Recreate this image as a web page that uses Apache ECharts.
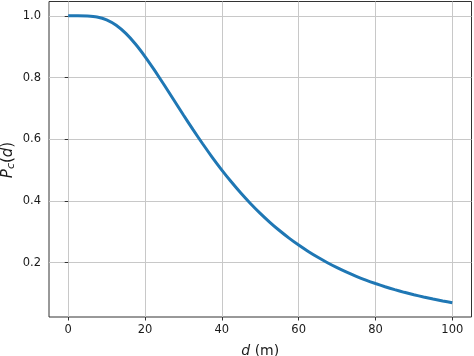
<!DOCTYPE html>
<html>
<head>
<meta charset="utf-8">
<script src="https://cdn.jsdelivr.net/npm/echarts@6/dist/echarts.min.js"></script>
<style>
html,body{margin:0;padding:0;background:#fff;}
#chart{width:474px;height:356px;}
</style>
</head>
<body>
<div id="chart"></div>
<script>
// distance d (m)
var distances = [0, 2.5, 5, 7.5, 10, 12.5, 15, 17.5, 20, 22.5, 25, 27.5, 30, 32.5, 35, 37.5, 40,
  42.5, 45, 47.5, 50, 52.5, 55, 57.5, 60, 62.5, 65, 67.5, 70, 72.5, 75, 77.5, 80,
  82.5, 85, 87.5, 90, 92.5, 95, 97.5, 100];
// coverage probability P_c(d)
var probabilities = [1.0, 1.0, 0.9996, 0.9965, 0.9873, 0.9696, 0.9430, 0.9086, 0.8680, 0.8231, 0.7756,
  0.7270, 0.6785, 0.6310, 0.5852, 0.5414, 0.5000, 0.4611, 0.4247, 0.3909, 0.3596, 0.3306,
  0.3039, 0.2793, 0.2567, 0.2360, 0.2170, 0.1995, 0.1836, 0.1689, 0.1555, 0.1432, 0.1320,
  0.1217, 0.1122, 0.1035, 0.0956, 0.0884, 0.0817, 0.0755, 0.0699];
var xTicks = [0, 20, 40, 60, 80, 100];
var yTicks = [0.2, 0.4, 0.6, 0.8, 1.0];

var seriesData = distances.map(function (d, i) { return [d, probabilities[i]]; });

var chart = echarts.init(document.getElementById('chart'), null, {renderer: 'canvas'});
var font = 'DejaVu Sans';
var txt = '#1a1a1a';
chart.setOption({
  animation: false,
  backgroundColor: '#fff',
  grid: {left: 49, right: 2.5, top: 1.5, bottom: 39, show: true, borderColor: '#333', borderWidth: 1,
    containLabel: false, outerBoundsMode: 'none'},
  graphic: [{
    type: 'text', x: 8, y: 160, rotation: Math.PI / 2,
    style: {
      text: '{i|P}{s|c}({i|d})', align: 'center', verticalAlign: 'middle',
      fontFamily: font, fontSize: 15, fill: txt,
      rich: {
        i: {fontStyle: 'italic', fontFamily: font, fontSize: 15, fill: txt},
        s: {fontStyle: 'italic', fontFamily: font, fontSize: 11, fill: txt, verticalAlign: 'bottom', padding: [6, 0, 0, 0]}
      }
    }
  }],
  xAxis: {
    type: 'value', min: -5, max: 105,
    axisLine: {show: false},
    axisTick: {show: true, length: 3.5, customValues: xTicks, lineStyle: {color: '#333', width: 1}},
    axisLabel: {customValues: xTicks, margin: 7, color: txt, fontFamily: font, fontSize: 11.5,
      formatter: function (v) { return String(v); }},
    splitLine: {show: true, lineStyle: {color: '#c8c8c8', width: 1}},
    name: '{i|d} (m)', nameLocation: 'middle', nameGap: 27,
    nameTextStyle: {fontFamily: font, fontSize: 14, color: txt,
      rich: {i: {fontStyle: 'italic', fontFamily: font, fontSize: 14, color: txt}}}
  },
  yAxis: {
    type: 'value', min: 0.0235, max: 1.0465,
    axisLine: {show: false},
    axisTick: {show: true, length: 3.5, customValues: yTicks, lineStyle: {color: '#333', width: 1}},
    axisLabel: {customValues: yTicks, margin: 8, color: txt, fontFamily: font, fontSize: 11.5,
      formatter: function (v) { return v.toFixed(1); }},
    splitLine: {show: true, lineStyle: {color: '#c8c8c8', width: 1}}
  },
  series: [{
    type: 'line', data: seriesData, showSymbol: false, smooth: 0.2,
    lineStyle: {color: '#1f77b4', width: 3}, itemStyle: {color: '#1f77b4'}
  }]
});
</script>
</body>
</html>
